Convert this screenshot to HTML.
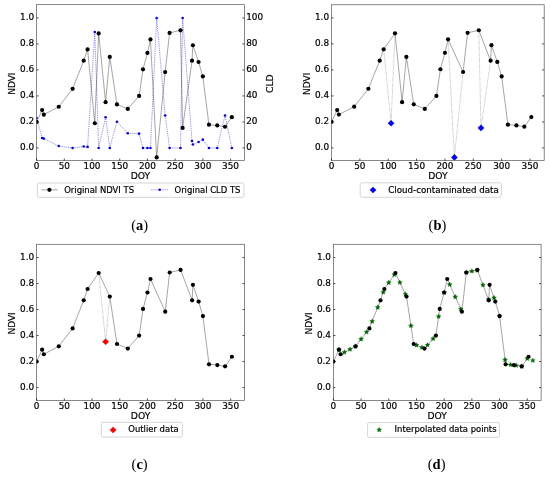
<!DOCTYPE html>
<html><head><meta charset="utf-8"><title>figure</title>
<style>html,body{margin:0;padding:0;background:#fff}svg{display:block}</style></head>
<body>
<svg width="550" height="478" viewBox="0 0 550 478">
<rect width="550" height="478" fill="#fff"/>
<g font-family='"DejaVu Sans", "Liberation Sans", sans-serif' font-size="8.9" fill="#000" stroke="#000" stroke-width="0.2">
<g text-anchor="middle">
<text x="36.6" y="169.25">0</text>
<text x="64.31" y="169.25">50</text>
<text x="92.01" y="169.25">100</text>
<text x="119.72" y="169.25">150</text>
<text x="147.43" y="169.25">200</text>
<text x="175.13" y="169.25">250</text>
<text x="202.84" y="169.25">300</text>
<text x="230.55" y="169.25">350</text>
<text x="140.5" y="178.75" font-size="9.2">DOY</text>
</g>
<g text-anchor="end">
<text x="34.2" y="150.25">0.0</text>
<text x="34.2" y="124.25">0.2</text>
<text x="34.2" y="98.25">0.4</text>
<text x="34.2" y="72.25">0.6</text>
<text x="34.2" y="46.25">0.8</text>
<text x="34.2" y="20.25">1.0</text>
</g>
<text transform="translate(15 83.7) rotate(-90)" text-anchor="middle" font-size="9.0">NDVI</text>
<text x="246.2" y="150.45">0</text>
<text x="246.2" y="124.45">20</text>
<text x="246.2" y="98.45">40</text>
<text x="246.2" y="72.45">60</text>
<text x="246.2" y="46.45">80</text>
<text x="246.2" y="20.45">100</text>
<text transform="translate(273.4 83.7) rotate(-90)" text-anchor="middle" font-size="9.2">CLD</text>
</g>
<text x="139.6" y="230.2" text-anchor="middle" font-family='"Liberation Serif", serif' font-size="14.5" fill="#000">(<tspan font-weight="bold">a</tspan>)</text>
<clipPath id="clipa"><rect x="36.6" y="4.65" width="207.8" height="155.9"/></clipPath>
<g clip-path="url(#clipa)">
<polyline points="36.6,118.05 42.14,137.94 43.8,138.59 58.77,146 72.62,147.95 83.7,146.52 87.58,146.91 94.78,31.99 98.66,147.95 105.59,117.27 109.75,147.95 116.95,121.69 127.75,133.26 139.11,133.65 142.99,147.95 147.43,147.95 150.47,147.95 156.68,17.95 165.16,115.45 169.59,147.95 180.51,147.95 182.61,17.95 192.03,141.06 192.87,144.57 198.57,141.97 202.84,139.63 208.94,147.95 217.25,147.95 225.01,115.45 231.82,147.95" fill="none" stroke="#0000ff" stroke-width="0.5" stroke-linejoin="round" stroke-dasharray="1.3 0.9" stroke-opacity="0.85"/>
<g fill="#0000ff"><circle cx="36.6" cy="118.05" r="1.3"/><circle cx="42.14" cy="137.94" r="1.3"/><circle cx="43.8" cy="138.59" r="1.3"/><circle cx="58.77" cy="146" r="1.3"/><circle cx="72.62" cy="147.95" r="1.3"/><circle cx="83.7" cy="146.52" r="1.3"/><circle cx="87.58" cy="146.91" r="1.3"/><circle cx="94.78" cy="31.99" r="1.3"/><circle cx="98.66" cy="147.95" r="1.3"/><circle cx="105.59" cy="117.27" r="1.3"/><circle cx="109.75" cy="147.95" r="1.3"/><circle cx="116.95" cy="121.69" r="1.3"/><circle cx="127.75" cy="133.26" r="1.3"/><circle cx="139.11" cy="133.65" r="1.3"/><circle cx="142.99" cy="147.95" r="1.3"/><circle cx="147.43" cy="147.95" r="1.3"/><circle cx="150.47" cy="147.95" r="1.3"/><circle cx="156.68" cy="17.95" r="1.3"/><circle cx="165.16" cy="115.45" r="1.3"/><circle cx="169.59" cy="147.95" r="1.3"/><circle cx="180.51" cy="147.95" r="1.3"/><circle cx="182.61" cy="17.95" r="1.3"/><circle cx="192.03" cy="141.06" r="1.3"/><circle cx="192.87" cy="144.57" r="1.3"/><circle cx="198.57" cy="141.97" r="1.3"/><circle cx="202.84" cy="139.63" r="1.3"/><circle cx="208.94" cy="147.95" r="1.3"/><circle cx="217.25" cy="147.95" r="1.3"/><circle cx="225.01" cy="115.45" r="1.3"/><circle cx="231.82" cy="147.95" r="1.3"/></g>
<polyline points="36.6,121.95 42.14,110.12 43.8,114.67 58.77,106.74 72.62,88.8 83.7,60.72 87.58,49.41 94.78,123.25 98.66,33.42 105.59,102.19 109.75,56.95 116.95,104.4 127.75,108.95 139.11,95.95 142.99,69.3 147.43,52.92 150.47,39.4 156.68,157.44 165.16,72.03 169.59,32.9 180.51,30.3 182.61,127.93 192.03,60.72 192.87,45.25 198.57,62.02 202.84,76.45 208.94,124.68 217.25,125.46 225.01,126.76 231.82,117.14" fill="none" stroke="#000" stroke-width="0.65" stroke-linejoin="round" stroke-opacity="0.55"/>
<g fill="#000"><circle cx="36.6" cy="121.95" r="2.1"/><circle cx="42.14" cy="110.12" r="2.1"/><circle cx="43.8" cy="114.67" r="2.1"/><circle cx="58.77" cy="106.74" r="2.1"/><circle cx="72.62" cy="88.8" r="2.1"/><circle cx="83.7" cy="60.72" r="2.1"/><circle cx="87.58" cy="49.41" r="2.1"/><circle cx="94.78" cy="123.25" r="2.1"/><circle cx="98.66" cy="33.42" r="2.1"/><circle cx="105.59" cy="102.19" r="2.1"/><circle cx="109.75" cy="56.95" r="2.1"/><circle cx="116.95" cy="104.4" r="2.1"/><circle cx="127.75" cy="108.95" r="2.1"/><circle cx="139.11" cy="95.95" r="2.1"/><circle cx="142.99" cy="69.3" r="2.1"/><circle cx="147.43" cy="52.92" r="2.1"/><circle cx="150.47" cy="39.4" r="2.1"/><circle cx="156.68" cy="157.44" r="2.1"/><circle cx="165.16" cy="72.03" r="2.1"/><circle cx="169.59" cy="32.9" r="2.1"/><circle cx="180.51" cy="30.3" r="2.1"/><circle cx="182.61" cy="127.93" r="2.1"/><circle cx="192.03" cy="60.72" r="2.1"/><circle cx="192.87" cy="45.25" r="2.1"/><circle cx="198.57" cy="62.02" r="2.1"/><circle cx="202.84" cy="76.45" r="2.1"/><circle cx="208.94" cy="124.68" r="2.1"/><circle cx="217.25" cy="125.46" r="2.1"/><circle cx="225.01" cy="126.76" r="2.1"/><circle cx="231.82" cy="117.14" r="2.1"/></g>
</g>
<rect x="36.6" y="4.65" width="207.8" height="155.9" fill="none" stroke="#000" stroke-width="0.75" stroke-opacity="0.62"/>
<path d="M36.6 160.55v-2.0M64.31 160.55v-2.0M92.01 160.55v-2.0M119.72 160.55v-2.0M147.43 160.55v-2.0M175.13 160.55v-2.0M202.84 160.55v-2.0M230.55 160.55v-2.0M36.6 147.95h2.0M244.4 147.95h-2.0M36.6 121.95h2.0M244.4 121.95h-2.0M36.6 95.95h2.0M244.4 95.95h-2.0M36.6 69.95h2.0M244.4 69.95h-2.0M36.6 43.95h2.0M244.4 43.95h-2.0M36.6 17.95h2.0M244.4 17.95h-2.0" stroke="#000" stroke-width="0.7" fill="none"/>
<rect x="37.4" y="183" width="206.5" height="14.4" rx="1.5" ry="1.5" fill="#fff" stroke="#ccc" stroke-width="0.8"/>
<path d="M41.4 189.8H57.6" stroke="#000" stroke-width="0.65" stroke-opacity="0.55"/><circle cx="49.4" cy="189.8" r="2.1" fill="#000"/>
<text x="64.2" y="193" font-family='"DejaVu Sans", "Liberation Sans", sans-serif' font-size="8.45" fill="#000" stroke="#000" stroke-width="0.2">Original NDVI TS</text>
<path d="M151.2 189.8H168.2" stroke="#0000ff" stroke-width="0.5" stroke-dasharray="1.3 0.9" stroke-opacity="0.85"/><circle cx="159.7" cy="189.8" r="1.3" fill="#0000ff"/>
<text x="174.5" y="193" font-family='"DejaVu Sans", "Liberation Sans", sans-serif' font-size="8.45" fill="#000" stroke="#000" stroke-width="0.2">Original CLD TS</text>
<g font-family='"DejaVu Sans", "Liberation Sans", sans-serif' font-size="8.9" fill="#000" stroke="#000" stroke-width="0.2">
<g text-anchor="middle">
<text x="331.5" y="169.3">0</text>
<text x="359.86" y="169.3">50</text>
<text x="388.22" y="169.3">100</text>
<text x="416.58" y="169.3">150</text>
<text x="444.94" y="169.3">200</text>
<text x="473.3" y="169.3">250</text>
<text x="501.66" y="169.3">300</text>
<text x="530.02" y="169.3">350</text>
<text x="437.85" y="178.8" font-size="9.2">DOY</text>
</g>
<g text-anchor="end">
<text x="329.1" y="150.2">0.0</text>
<text x="329.1" y="124.2">0.2</text>
<text x="329.1" y="98.2">0.4</text>
<text x="329.1" y="72.2">0.6</text>
<text x="329.1" y="46.2">0.8</text>
<text x="329.1" y="20.2">1.0</text>
</g>
<text transform="translate(309.6 83.77) rotate(-90)" text-anchor="middle" font-size="9.0">NDVI</text>
</g>
<text x="437.5" y="230.2" text-anchor="middle" font-family='"Liberation Serif", serif' font-size="14.5" fill="#000">(<tspan font-weight="bold">b</tspan>)</text>
<clipPath id="clipb"><rect x="331.5" y="4.75" width="212.7" height="155.85"/></clipPath>
<g clip-path="url(#clipb)">
<polyline points="383.68,49.36 391.06,123.2 395.03,33.37" fill="none" stroke="#000" stroke-width="0.4" stroke-linejoin="round" stroke-dasharray="0.6 0.6" stroke-opacity="0.7"/>
<polyline points="448.06,39.35 454.41,157.39 463.09,71.98" fill="none" stroke="#000" stroke-width="0.4" stroke-linejoin="round" stroke-dasharray="0.6 0.6" stroke-opacity="0.7"/>
<polyline points="478.8,30.25 480.96,127.88 490.6,60.67" fill="none" stroke="#000" stroke-width="0.4" stroke-linejoin="round" stroke-dasharray="0.6 0.6" stroke-opacity="0.7"/>
<polyline points="331.5,121.9 337.17,110.07 338.87,114.62 354.19,106.69 368.37,88.75 379.71,60.67 383.68,49.36 395.03,33.37 402.12,102.14 406.37,56.9 413.74,104.35 424.8,108.9 436.43,95.9 440.4,69.25 444.94,52.87 448.06,39.35 463.09,71.98 467.63,32.85 478.8,30.25 490.6,60.67 491.45,45.2 497.29,61.97 501.66,76.4 507.9,124.63 516.41,125.41 524.35,126.71 531.32,117.09" fill="none" stroke="#000" stroke-width="0.65" stroke-linejoin="round" stroke-opacity="0.55"/>
<g fill="#000"><circle cx="331.5" cy="121.9" r="2.1"/><circle cx="337.17" cy="110.07" r="2.1"/><circle cx="338.87" cy="114.62" r="2.1"/><circle cx="354.19" cy="106.69" r="2.1"/><circle cx="368.37" cy="88.75" r="2.1"/><circle cx="379.71" cy="60.67" r="2.1"/><circle cx="383.68" cy="49.36" r="2.1"/><circle cx="395.03" cy="33.37" r="2.1"/><circle cx="402.12" cy="102.14" r="2.1"/><circle cx="406.37" cy="56.9" r="2.1"/><circle cx="413.74" cy="104.35" r="2.1"/><circle cx="424.8" cy="108.9" r="2.1"/><circle cx="436.43" cy="95.9" r="2.1"/><circle cx="440.4" cy="69.25" r="2.1"/><circle cx="444.94" cy="52.87" r="2.1"/><circle cx="448.06" cy="39.35" r="2.1"/><circle cx="463.09" cy="71.98" r="2.1"/><circle cx="467.63" cy="32.85" r="2.1"/><circle cx="478.8" cy="30.25" r="2.1"/><circle cx="490.6" cy="60.67" r="2.1"/><circle cx="491.45" cy="45.2" r="2.1"/><circle cx="497.29" cy="61.97" r="2.1"/><circle cx="501.66" cy="76.4" r="2.1"/><circle cx="507.9" cy="124.63" r="2.1"/><circle cx="516.41" cy="125.41" r="2.1"/><circle cx="524.35" cy="126.71" r="2.1"/><circle cx="531.32" cy="117.09" r="2.1"/></g>
<path d="M391.06 119.9L394.36 123.2L391.06 126.5L387.76 123.2Z" fill="#0000ff"/>
<path d="M454.41 154.09L457.71 157.39L454.41 160.69L451.11 157.39Z" fill="#0000ff"/>
<path d="M480.96 124.58L484.26 127.88L480.96 131.18L477.66 127.88Z" fill="#0000ff"/>
</g>
<rect x="331.5" y="4.75" width="212.7" height="155.85" fill="none" stroke="#000" stroke-width="0.75" stroke-opacity="0.62"/>
<path d="M331.5 160.6v-2.0M359.86 160.6v-2.0M388.22 160.6v-2.0M416.58 160.6v-2.0M444.94 160.6v-2.0M473.3 160.6v-2.0M501.66 160.6v-2.0M530.02 160.6v-2.0M331.5 147.9h2.0M544.2 147.9h-2.0M331.5 121.9h2.0M544.2 121.9h-2.0M331.5 95.9h2.0M544.2 95.9h-2.0M331.5 69.9h2.0M544.2 69.9h-2.0M331.5 43.9h2.0M544.2 43.9h-2.0M331.5 17.9h2.0M544.2 17.9h-2.0" stroke="#000" stroke-width="0.7" fill="none"/>
<rect x="360.2" y="182.8" width="141.1" height="14.5" rx="1.5" ry="1.5" fill="#fff" stroke="#ccc" stroke-width="0.8"/>
<path d="M373 186.7L376.3 190L373 193.3L369.7 190Z" fill="#0000ff"/>
<text x="388.2" y="193" font-family='"DejaVu Sans", "Liberation Sans", sans-serif' font-size="8.7" fill="#000" stroke="#000" stroke-width="0.2">Cloud-contaminated data</text>
<g font-family='"DejaVu Sans", "Liberation Sans", sans-serif' font-size="8.9" fill="#000" stroke="#000" stroke-width="0.2">
<g text-anchor="middle">
<text x="36.6" y="409.1">0</text>
<text x="64.32" y="409.1">50</text>
<text x="92.04" y="409.1">100</text>
<text x="119.76" y="409.1">150</text>
<text x="147.48" y="409.1">200</text>
<text x="175.2" y="409.1">250</text>
<text x="202.92" y="409.1">300</text>
<text x="230.64" y="409.1">350</text>
<text x="140.55" y="418.6" font-size="9.2">DOY</text>
</g>
<g text-anchor="end">
<text x="34.2" y="389.85">0.0</text>
<text x="34.2" y="363.85">0.2</text>
<text x="34.2" y="337.85">0.4</text>
<text x="34.2" y="311.85">0.6</text>
<text x="34.2" y="285.85">0.8</text>
<text x="34.2" y="259.85">1.0</text>
</g>
<text transform="translate(15 323.45) rotate(-90)" text-anchor="middle" font-size="9.0">NDVI</text>
</g>
<text x="139.6" y="469.2" text-anchor="middle" font-family='"Liberation Serif", serif' font-size="14.5" fill="#000">(<tspan font-weight="bold">c</tspan>)</text>
<clipPath id="clipc"><rect x="36.6" y="244.3" width="207.9" height="156.1"/></clipPath>
<g clip-path="url(#clipc)">
<polyline points="98.69,273.02 105.62,341.79 109.78,296.55" fill="none" stroke="#000" stroke-width="0.4" stroke-linejoin="round" stroke-dasharray="0.6 0.6" stroke-opacity="0.7"/>
<polyline points="36.6,361.55 42.14,349.72 43.81,354.27 58.78,346.34 72.64,328.4 83.72,300.32 87.6,289.01 98.69,273.02 109.78,296.55 116.99,344 127.8,348.55 139.16,335.55 143.04,308.9 147.48,292.52 150.53,279 165.22,311.63 169.66,272.5 180.58,269.9 192.11,300.32 192.94,284.85 198.65,301.62 202.92,316.05 209.02,364.28 217.33,365.06 225.1,366.36 231.92,356.74" fill="none" stroke="#000" stroke-width="0.65" stroke-linejoin="round" stroke-opacity="0.55"/>
<g fill="#000"><circle cx="36.6" cy="361.55" r="2.1"/><circle cx="42.14" cy="349.72" r="2.1"/><circle cx="43.81" cy="354.27" r="2.1"/><circle cx="58.78" cy="346.34" r="2.1"/><circle cx="72.64" cy="328.4" r="2.1"/><circle cx="83.72" cy="300.32" r="2.1"/><circle cx="87.6" cy="289.01" r="2.1"/><circle cx="98.69" cy="273.02" r="2.1"/><circle cx="109.78" cy="296.55" r="2.1"/><circle cx="116.99" cy="344" r="2.1"/><circle cx="127.8" cy="348.55" r="2.1"/><circle cx="139.16" cy="335.55" r="2.1"/><circle cx="143.04" cy="308.9" r="2.1"/><circle cx="147.48" cy="292.52" r="2.1"/><circle cx="150.53" cy="279" r="2.1"/><circle cx="165.22" cy="311.63" r="2.1"/><circle cx="169.66" cy="272.5" r="2.1"/><circle cx="180.58" cy="269.9" r="2.1"/><circle cx="192.11" cy="300.32" r="2.1"/><circle cx="192.94" cy="284.85" r="2.1"/><circle cx="198.65" cy="301.62" r="2.1"/><circle cx="202.92" cy="316.05" r="2.1"/><circle cx="209.02" cy="364.28" r="2.1"/><circle cx="217.33" cy="365.06" r="2.1"/><circle cx="225.1" cy="366.36" r="2.1"/><circle cx="231.92" cy="356.74" r="2.1"/></g>
<path d="M105.62 338.49L108.92 341.79L105.62 345.09L102.32 341.79Z" fill="#ff0000"/>
</g>
<rect x="36.6" y="244.3" width="207.9" height="156.1" fill="none" stroke="#000" stroke-width="0.75" stroke-opacity="0.62"/>
<path d="M36.6 400.4v-2.0M64.32 400.4v-2.0M92.04 400.4v-2.0M119.76 400.4v-2.0M147.48 400.4v-2.0M175.2 400.4v-2.0M202.92 400.4v-2.0M230.64 400.4v-2.0M36.6 387.55h2.0M244.5 387.55h-2.0M36.6 361.55h2.0M244.5 361.55h-2.0M36.6 335.55h2.0M244.5 335.55h-2.0M36.6 309.55h2.0M244.5 309.55h-2.0M36.6 283.55h2.0M244.5 283.55h-2.0M36.6 257.55h2.0M244.5 257.55h-2.0" stroke="#000" stroke-width="0.7" fill="none"/>
<rect x="101.4" y="422.3" width="81" height="14.7" rx="1.5" ry="1.5" fill="#fff" stroke="#ccc" stroke-width="0.8"/>
<path d="M113.1 426.7L116.4 430L113.1 433.3L109.8 430Z" fill="#ff0000"/>
<text x="128.3" y="431.8" font-family='"DejaVu Sans", "Liberation Sans", sans-serif' font-size="8.45" fill="#000" stroke="#000" stroke-width="0.2">Outlier data</text>
<g font-family='"DejaVu Sans", "Liberation Sans", sans-serif' font-size="8.9" fill="#000" stroke="#000" stroke-width="0.2">
<g text-anchor="middle">
<text x="333.4" y="409.1">0</text>
<text x="361.09" y="409.1">50</text>
<text x="388.79" y="409.1">100</text>
<text x="416.48" y="409.1">150</text>
<text x="444.17" y="409.1">200</text>
<text x="471.87" y="409.1">250</text>
<text x="499.56" y="409.1">300</text>
<text x="527.25" y="409.1">350</text>
<text x="437.25" y="418.6" font-size="9.2">DOY</text>
</g>
<g text-anchor="end">
<text x="331" y="389.85">0.0</text>
<text x="331" y="363.85">0.2</text>
<text x="331" y="337.85">0.4</text>
<text x="331" y="311.85">0.6</text>
<text x="331" y="285.85">0.8</text>
<text x="331" y="259.85">1.0</text>
</g>
<text transform="translate(312 323.45) rotate(-90)" text-anchor="middle" font-size="9.0">NDVI</text>
</g>
<text x="436.6" y="469.2" text-anchor="middle" font-family='"Liberation Serif", serif' font-size="14.5" fill="#000">(<tspan font-weight="bold">d</tspan>)</text>
<clipPath id="clipd"><rect x="333.4" y="244.3" width="207.7" height="156.1"/></clipPath>
<g clip-path="url(#clipd)">
<polygon points="338.94,347.12 339.7,348.67 341.41,348.92 340.18,350.12 340.47,351.82 338.94,351.02 337.41,351.82 337.7,350.12 336.47,348.92 338.17,348.67" fill="#008000" stroke="#005000" stroke-width="0.25"/>
<polygon points="344.48,349.61 345.24,351.16 346.95,351.41 345.71,352.62 346.01,354.32 344.48,353.51 342.95,354.32 343.24,352.62 342,351.41 343.71,351.16" fill="#008000" stroke="#005000" stroke-width="0.25"/>
<polygon points="350.02,346.68 350.78,348.23 352.49,348.47 351.25,349.68 351.54,351.38 350.02,350.58 348.49,351.38 348.78,349.68 347.54,348.47 349.25,348.23" fill="#008000" stroke="#005000" stroke-width="0.25"/>
<polygon points="355.55,343.74 356.32,345.29 358.03,345.54 356.79,346.74 357.08,348.44 355.55,347.64 354.03,348.44 354.32,346.74 353.08,345.54 354.79,345.29" fill="#008000" stroke="#005000" stroke-width="0.25"/>
<polygon points="361.09,336.56 361.86,338.11 363.57,338.36 362.33,339.57 362.62,341.27 361.09,340.46 359.57,341.27 359.86,339.57 358.62,338.36 360.33,338.11" fill="#008000" stroke="#005000" stroke-width="0.25"/>
<polygon points="366.63,329.39 367.4,330.94 369.1,331.18 367.87,332.39 368.16,334.09 366.63,333.29 365.1,334.09 365.4,332.39 364.16,331.18 365.87,330.94" fill="#008000" stroke="#005000" stroke-width="0.25"/>
<polygon points="372.17,318.78 372.93,320.33 374.64,320.58 373.41,321.78 373.7,323.48 372.17,322.68 370.64,323.48 370.93,321.78 369.7,320.58 371.41,320.33" fill="#008000" stroke="#005000" stroke-width="0.25"/>
<polygon points="377.71,304.74 378.47,306.29 380.18,306.54 378.95,307.74 379.24,309.44 377.71,308.64 376.18,309.44 376.47,307.74 375.24,306.54 376.95,306.29" fill="#008000" stroke="#005000" stroke-width="0.25"/>
<polygon points="383.25,289.64 384.01,291.19 385.72,291.44 384.48,292.64 384.78,294.34 383.25,293.54 381.72,294.34 382.01,292.64 380.78,291.44 382.48,291.19" fill="#008000" stroke="#005000" stroke-width="0.25"/>
<polygon points="388.79,280.01 389.55,281.56 391.26,281.81 390.02,283.02 390.31,284.72 388.79,283.91 387.26,284.72 387.55,283.02 386.31,281.81 388.02,281.56" fill="#008000" stroke="#005000" stroke-width="0.25"/>
<polygon points="394.33,272.02 395.09,273.57 396.8,273.82 395.56,275.02 395.85,276.72 394.33,275.92 392.8,276.72 393.09,275.02 391.85,273.82 393.56,273.57" fill="#008000" stroke="#005000" stroke-width="0.25"/>
<polygon points="399.86,279.83 400.63,281.38 402.34,281.63 401.1,282.83 401.39,284.54 399.86,283.73 398.34,284.54 398.63,282.83 397.39,281.63 399.1,281.38" fill="#008000" stroke="#005000" stroke-width="0.25"/>
<polygon points="405.4,291.6 406.17,293.15 407.88,293.39 406.64,294.6 406.93,296.3 405.4,295.5 403.87,296.3 404.17,294.6 402.93,293.39 404.64,293.15" fill="#008000" stroke="#005000" stroke-width="0.25"/>
<polygon points="410.94,323.15 411.71,324.7 413.41,324.95 412.18,326.15 412.47,327.85 410.94,327.05 409.41,327.85 409.7,326.15 408.47,324.95 410.18,324.7" fill="#008000" stroke="#005000" stroke-width="0.25"/>
<polygon points="416.48,342.57 417.24,344.11 418.95,344.36 417.72,345.57 418.01,347.27 416.48,346.47 414.95,347.27 415.24,345.57 414.01,344.36 415.72,344.11" fill="#008000" stroke="#005000" stroke-width="0.25"/>
<polygon points="422.02,344.9 422.78,346.45 424.49,346.7 423.26,347.9 423.55,349.6 422.02,348.8 420.49,349.6 420.78,347.9 419.55,346.7 421.25,346.45" fill="#008000" stroke="#005000" stroke-width="0.25"/>
<polygon points="427.56,342.46 428.32,344.01 430.03,344.26 428.79,345.46 429.09,347.17 427.56,346.36 426.03,347.17 426.32,345.46 425.08,344.26 426.79,344.01" fill="#008000" stroke="#005000" stroke-width="0.25"/>
<polygon points="433.1,336.12 433.86,337.67 435.57,337.92 434.33,339.12 434.62,340.82 433.1,340.02 431.57,340.82 431.86,339.12 430.62,337.92 432.33,337.67" fill="#008000" stroke="#005000" stroke-width="0.25"/>
<polygon points="438.63,313.91 439.4,315.46 441.11,315.71 439.87,316.92 440.16,318.62 438.63,317.81 437.11,318.62 437.4,316.92 436.16,315.71 437.87,315.46" fill="#008000" stroke="#005000" stroke-width="0.25"/>
<polygon points="444.17,289.92 444.94,291.47 446.65,291.72 445.41,292.92 445.7,294.62 444.17,293.82 442.65,294.62 442.94,292.92 441.7,291.72 443.41,291.47" fill="#008000" stroke="#005000" stroke-width="0.25"/>
<polygon points="449.71,281.94 450.48,283.49 452.18,283.74 450.95,284.94 451.24,286.64 449.71,285.84 448.18,286.64 448.48,284.94 447.24,283.74 448.95,283.49" fill="#008000" stroke="#005000" stroke-width="0.25"/>
<polygon points="455.25,294.25 456.01,295.8 457.72,296.05 456.49,297.26 456.78,298.96 455.25,298.15 453.72,298.96 454.01,297.26 452.78,296.05 454.49,295.8" fill="#008000" stroke="#005000" stroke-width="0.25"/>
<polygon points="460.79,306.57 461.55,308.12 463.26,308.36 462.03,309.57 462.32,311.27 460.79,310.47 459.26,311.27 459.55,309.57 458.32,308.36 460.03,308.12" fill="#008000" stroke="#005000" stroke-width="0.25"/>
<polygon points="466.33,269.9 467.09,271.45 468.8,271.7 467.56,272.9 467.86,274.6 466.33,273.8 464.8,274.6 465.09,272.9 463.86,271.7 465.56,271.45" fill="#008000" stroke="#005000" stroke-width="0.25"/>
<polygon points="471.87,268.58 472.63,270.13 474.34,270.38 473.1,271.58 473.39,273.28 471.87,272.48 470.34,273.28 470.63,271.58 469.39,270.38 471.1,270.13" fill="#008000" stroke="#005000" stroke-width="0.25"/>
<polygon points="477.41,267.74 478.17,269.29 479.88,269.54 478.64,270.74 478.93,272.44 477.41,271.64 475.88,272.44 476.17,270.74 474.93,269.54 476.64,269.29" fill="#008000" stroke="#005000" stroke-width="0.25"/>
<polygon points="482.94,282.36 483.71,283.91 485.42,284.16 484.18,285.37 484.47,287.07 482.94,286.26 481.42,287.07 481.71,285.37 480.47,284.16 482.18,283.91" fill="#008000" stroke="#005000" stroke-width="0.25"/>
<polygon points="488.48,296.99 489.25,298.54 490.96,298.79 489.72,299.99 490.01,301.69 488.48,300.89 486.95,301.69 487.25,299.99 486.01,298.79 487.72,298.54" fill="#008000" stroke="#005000" stroke-width="0.25"/>
<polygon points="494.02,295.28 494.79,296.82 496.49,297.07 495.26,298.28 495.55,299.98 494.02,299.18 492.49,299.98 492.78,298.28 491.55,297.07 493.26,296.82" fill="#008000" stroke="#005000" stroke-width="0.25"/>
<polygon points="499.56,313.45 500.32,315 502.03,315.25 500.8,316.45 501.09,318.15 499.56,317.35 498.03,318.15 498.32,316.45 497.09,315.25 498.8,315" fill="#008000" stroke="#005000" stroke-width="0.25"/>
<polygon points="505.1,357.3 505.86,358.84 507.57,359.09 506.34,360.3 506.63,362 505.1,361.2 503.57,362 503.86,360.3 502.63,359.09 504.33,358.84" fill="#008000" stroke="#005000" stroke-width="0.25"/>
<polygon points="510.64,362.15 511.4,363.7 513.11,363.94 511.87,365.15 512.17,366.85 510.64,366.05 509.11,366.85 509.4,365.15 508.16,363.94 509.87,363.7" fill="#008000" stroke="#005000" stroke-width="0.25"/>
<polygon points="516.18,362.83 516.94,364.38 518.65,364.63 517.41,365.83 517.7,367.53 516.18,366.73 514.65,367.53 514.94,365.83 513.7,364.63 515.41,364.38" fill="#008000" stroke="#005000" stroke-width="0.25"/>
<polygon points="521.71,363.76 522.48,365.31 524.19,365.56 522.95,366.76 523.24,368.46 521.71,367.66 520.19,368.46 520.48,366.76 519.24,365.56 520.95,365.31" fill="#008000" stroke="#005000" stroke-width="0.25"/>
<polygon points="527.25,355.94 528.02,357.49 529.73,357.74 528.49,358.94 528.78,360.64 527.25,359.84 525.73,360.64 526.02,358.94 524.78,357.74 526.49,357.49" fill="#008000" stroke="#005000" stroke-width="0.25"/>
<polygon points="532.79,357.84 533.56,359.39 535.26,359.64 534.03,360.85 534.32,362.55 532.79,361.74 531.26,362.55 531.56,360.85 530.32,359.64 532.03,359.39" fill="#008000" stroke="#005000" stroke-width="0.25"/>
<polyline points="333.4,361.55 338.94,349.72 340.6,354.27 355.55,346.34 369.4,328.4 380.48,300.32 384.36,289.01 395.43,273.02 406.51,296.55 413.71,344 424.51,348.55 435.87,335.55 439.74,308.9 444.17,292.52 447.22,279 461.9,311.63 466.33,272.5 477.24,269.9 488.76,300.32 489.59,284.85 495.3,301.62 499.56,316.05 505.65,364.28 513.96,365.06 521.71,366.36 528.53,356.74" fill="none" stroke="#000" stroke-width="0.65" stroke-linejoin="round" stroke-opacity="0.55"/>
<g fill="#000"><circle cx="333.4" cy="361.55" r="2.1"/><circle cx="338.94" cy="349.72" r="2.1"/><circle cx="340.6" cy="354.27" r="2.1"/><circle cx="355.55" cy="346.34" r="2.1"/><circle cx="369.4" cy="328.4" r="2.1"/><circle cx="380.48" cy="300.32" r="2.1"/><circle cx="384.36" cy="289.01" r="2.1"/><circle cx="395.43" cy="273.02" r="2.1"/><circle cx="406.51" cy="296.55" r="2.1"/><circle cx="413.71" cy="344" r="2.1"/><circle cx="424.51" cy="348.55" r="2.1"/><circle cx="435.87" cy="335.55" r="2.1"/><circle cx="439.74" cy="308.9" r="2.1"/><circle cx="444.17" cy="292.52" r="2.1"/><circle cx="447.22" cy="279" r="2.1"/><circle cx="461.9" cy="311.63" r="2.1"/><circle cx="466.33" cy="272.5" r="2.1"/><circle cx="477.24" cy="269.9" r="2.1"/><circle cx="488.76" cy="300.32" r="2.1"/><circle cx="489.59" cy="284.85" r="2.1"/><circle cx="495.3" cy="301.62" r="2.1"/><circle cx="499.56" cy="316.05" r="2.1"/><circle cx="505.65" cy="364.28" r="2.1"/><circle cx="513.96" cy="365.06" r="2.1"/><circle cx="521.71" cy="366.36" r="2.1"/><circle cx="528.53" cy="356.74" r="2.1"/></g>
</g>
<rect x="333.4" y="244.3" width="207.7" height="156.1" fill="none" stroke="#000" stroke-width="0.75" stroke-opacity="0.62"/>
<path d="M333.4 400.4v-2.0M361.09 400.4v-2.0M388.79 400.4v-2.0M416.48 400.4v-2.0M444.17 400.4v-2.0M471.87 400.4v-2.0M499.56 400.4v-2.0M527.25 400.4v-2.0M333.4 387.55h2.0M541.1 387.55h-2.0M333.4 361.55h2.0M541.1 361.55h-2.0M333.4 335.55h2.0M541.1 335.55h-2.0M333.4 309.55h2.0M541.1 309.55h-2.0M333.4 283.55h2.0M541.1 283.55h-2.0M333.4 257.55h2.0M541.1 257.55h-2.0" stroke="#000" stroke-width="0.7" fill="none"/>
<rect x="367.6" y="422.6" width="131.9" height="14.8" rx="1.5" ry="1.5" fill="#fff" stroke="#ccc" stroke-width="0.8"/>
<polygon points="379.2,427.3 379.96,428.85 381.67,429.1 380.44,430.3 380.73,432 379.2,431.2 377.67,432 377.96,430.3 376.73,429.1 378.44,428.85" fill="#008000" stroke="#005000" stroke-width="0.25"/>
<text x="394.6" y="431.9" font-family='"DejaVu Sans", "Liberation Sans", sans-serif' font-size="8.45" fill="#000" stroke="#000" stroke-width="0.2">Interpolated data points</text>
</svg>
</body></html>
